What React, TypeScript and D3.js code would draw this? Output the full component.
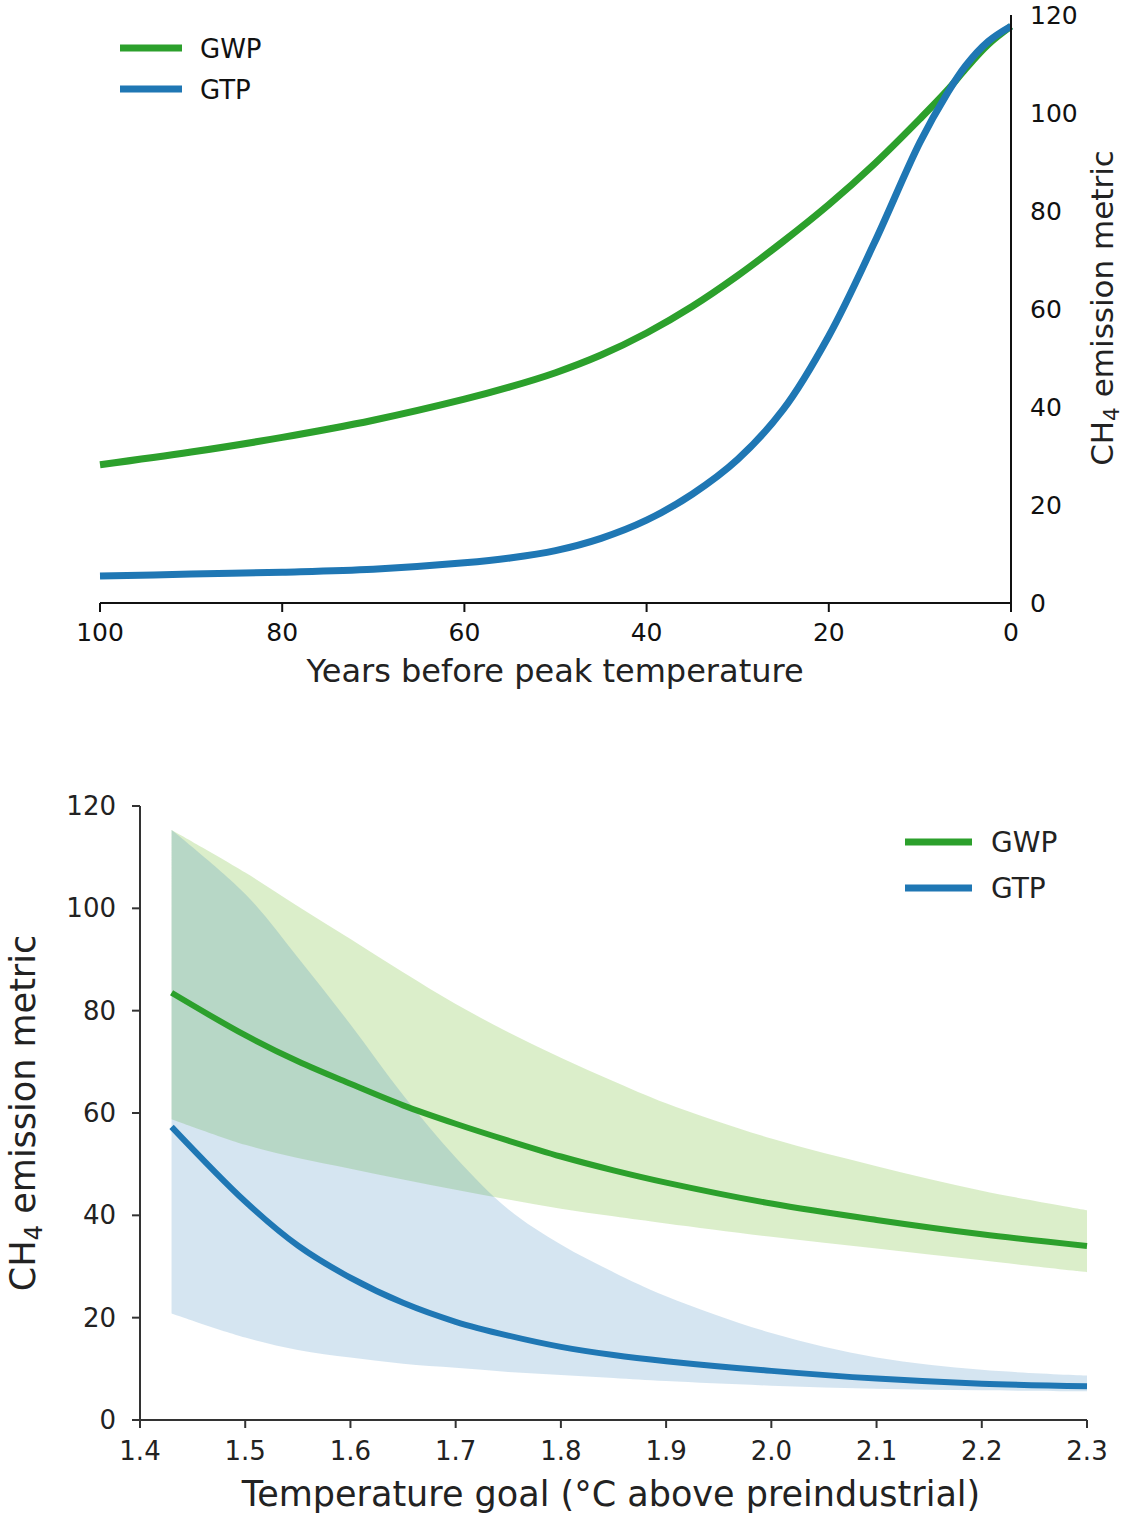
import React from "react";
import * as d3 from "d3";

// top panel: metric vs years before peak temperature
const yearsBefore = [100, 90, 80, 70, 60, 55, 50, 45, 40, 35, 30, 25, 20, 15, 10, 7, 5, 2.5, 0];
const gwpTop = [28.2, 30.8, 33.8, 37.3, 41.6, 44.1, 47, 50.6, 55.1, 60.5, 66.8, 73.8, 81.3, 89.6, 98.8, 104.6, 109, 114, 117.7];
const gtpTop = [5.5, 5.9, 6.3, 6.9, 8.2, 9.2, 10.7, 13.2, 16.9, 22.2, 29.3, 39.5, 54.5, 73.5, 94, 104, 109.6, 114.6, 117.7];
const topXTicks = [100, 80, 60, 40, 20, 0];
const topYTicks = [0, 20, 40, 60, 80, 100, 120];

// bottom panel: metric vs temperature goal, central line and range
const tempGoal = [1.43, 1.5, 1.55, 1.6, 1.65, 1.7, 1.75, 1.8, 1.85, 1.9, 2.0, 2.1, 2.2, 2.3];
const gwpMid = [83.5, 75.2, 70.1, 65.7, 61.5, 57.9, 54.6, 51.5, 48.8, 46.4, 42.3, 39.1, 36.3, 34];
const gwpHigh = [115.3, 107, 100.4, 94, 87.5, 81.3, 75.8, 70.8, 66.2, 61.9, 55, 49.6, 44.8, 41];
const gwpLow = [58.8, 53.8, 51.2, 49.1, 47, 45, 43.1, 41.3, 39.8, 38.4, 35.8, 33.5, 31.2, 28.9];
const gtpMid = [57.3, 42.7, 34.1, 27.8, 22.9, 19.2, 16.5, 14.3, 12.7, 11.5, 9.6, 8.1, 7.1, 6.6];
const gtpHigh = [115.3, 102.8, 90.4, 77.3, 63.5, 51.3, 41.2, 34.3, 28.9, 24.2, 17, 12.2, 9.8, 8.7];
const gtpLow = [20.8, 16.1, 13.7, 12.2, 11, 10.2, 9.4, 8.8, 8.2, 7.6, 6.7, 6.1, 5.8, 5.6];
const bottomXTicks = [1.4, 1.5, 1.6, 1.7, 1.8, 1.9, 2.0, 2.1, 2.2, 2.3];
const bottomYTicks = [0, 20, 40, 60, 80, 100, 120];

const seriesNames = ["GWP", "GTP"];
const GREEN = "#2ca02c";
const BLUE = "#1f77b4";
const FONT = "'DejaVu Sans', sans-serif";

const YLabel = ({ x, y, size }: { x: number; y: number; size: number }) => (
  <text
    transform={`translate(${x},${y}) rotate(-90)`}
    textAnchor="middle"
    fontSize={size}
    fill="#222"
  >
    CH<tspan fontSize={size * 0.7} dy={size * 0.2}>4</tspan>
    <tspan dy={-size * 0.2}> emission metric</tspan>
  </text>
);

const TopChart = () => {
  const x = d3.scaleLinear().domain([100, 0]).range([100, 1011]);
  const y = d3.scaleLinear().domain([0, 120]).range([603, 15]);
  const line = d3
    .line<number>()
    .curve(d3.curveCatmullRom)
    .x((_, i) => x(yearsBefore[i]))
    .y((d) => y(d));

  return (
    <g fontFamily={FONT}>
      <path d={line(gwpTop) as string} fill="none" stroke={GREEN} strokeWidth={7} />
      <path d={line(gtpTop) as string} fill="none" stroke={BLUE} strokeWidth={7} />

      {/* bottom spine and ticks */}
      <line x1={x(100)} x2={x(0)} y1={y(0)} y2={y(0)} stroke="#111" strokeWidth={2} />
      {topXTicks.map((t) => (
        <g key={t} transform={`translate(${x(t)},${y(0)})`}>
          <line y2={9} stroke="#111" strokeWidth={2} />
          <text y={38} textAnchor="middle" fontSize={25} fill="#111">
            {t}
          </text>
        </g>
      ))}
      <text x={555} y={682} textAnchor="middle" fontSize={32} fill="#222">
        Years before peak temperature
      </text>

      {/* right spine and labels */}
      <line x1={x(0)} x2={x(0)} y1={y(0)} y2={y(120)} stroke="#111" strokeWidth={2} />
      {topYTicks.map((t) => (
        <text key={t} x={1030} y={y(t) + 9} fontSize={25} fill="#111">
          {t}
        </text>
      ))}
      <YLabel x={1113} y={308} size={31} />

      {/* legend */}
      {seriesNames.map((n, i) => (
        <g key={n} transform={`translate(120,${48 + i * 41})`}>
          <line x1={0} x2={62} stroke={i === 0 ? GREEN : BLUE} strokeWidth={7} />
          <text x={80} y={10} fontSize={26} fill="#111">
            {n}
          </text>
        </g>
      ))}
    </g>
  );
};

const BottomChart = () => {
  const x = d3.scaleLinear().domain([1.4, 2.3]).range([140, 1087]);
  const y = d3.scaleLinear().domain([0, 120]).range([1420, 806]);
  const line = d3
    .line<number>()
    .curve(d3.curveCatmullRom)
    .x((_, i) => x(tempGoal[i]))
    .y((d) => y(d));
  const band = (lo: number[], hi: number[]) =>
    d3
      .area<number>()
      .curve(d3.curveCatmullRom)
      .x((_, i) => x(tempGoal[i]))
      .y0((_, i) => y(lo[i]))
      .y1((_, i) => y(hi[i]))(tempGoal) as string;

  return (
    <g fontFamily={FONT}>
      <path d={band(gwpLow, gwpHigh)} fill="#7fc241" fillOpacity={0.28} />
      <path d={band(gtpLow, gtpHigh)} fill={BLUE} fillOpacity={0.19} />
      <path d={line(gwpMid) as string} fill="none" stroke={GREEN} strokeWidth={6} />
      <path d={line(gtpMid) as string} fill="none" stroke={BLUE} strokeWidth={6} />

      {/* axes */}
      <line x1={x(1.4)} x2={x(2.3)} y1={y(0)} y2={y(0)} stroke="#333" strokeWidth={2} />
      <line x1={x(1.4)} x2={x(1.4)} y1={y(0)} y2={y(120)} stroke="#333" strokeWidth={2} />
      {bottomXTicks.map((t) => (
        <g key={t} transform={`translate(${x(t)},${y(0)})`}>
          <line y2={8} stroke="#333" strokeWidth={2} />
          <text y={40} textAnchor="middle" fontSize={26} fill="#222">
            {t.toFixed(1)}
          </text>
        </g>
      ))}
      {bottomYTicks.map((t) => (
        <g key={t} transform={`translate(${x(1.4)},${y(t)})`}>
          <line x2={-8} stroke="#333" strokeWidth={2} />
          <text x={-24} y={9} textAnchor="end" fontSize={26} fill="#222">
            {t}
          </text>
        </g>
      ))}
      <text x={611} y={1506} textAnchor="middle" fontSize={35} fill="#222">
        Temperature goal (°C above preindustrial)
      </text>
      <YLabel x={35} y={1113} size={35} />

      {/* legend */}
      {seriesNames.map((n, i) => (
        <g key={n} transform={`translate(905,${842 + i * 46})`}>
          <line x1={0} x2={67} stroke={i === 0 ? GREEN : BLUE} strokeWidth={7} />
          <text x={86} y={10} fontSize={28} fill="#222">
            {n}
          </text>
        </g>
      ))}
    </g>
  );
};

export default function App() {
  return (
    <svg
      width={1125}
      height={1521}
      style={{ position: "absolute", left: 0, top: 0, display: "block", background: "#fff" }}
    >
      <rect width={1125} height={1521} fill="#fff" />
      <TopChart />
      <BottomChart />
    </svg>
  );
}
